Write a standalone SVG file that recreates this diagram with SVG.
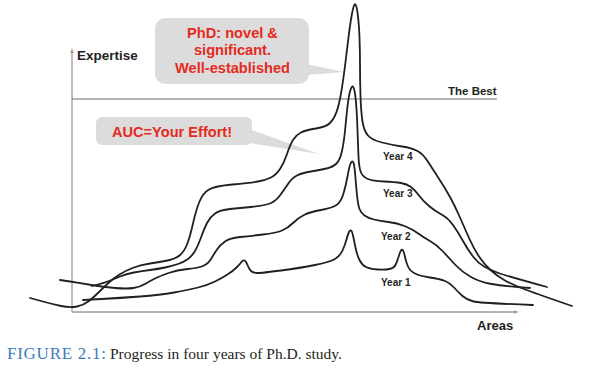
<svg xmlns="http://www.w3.org/2000/svg" width="600" height="370" viewBox="0 0 600 370">
<style>
.curve{fill:none;stroke:#231f20;stroke-width:1.8;stroke-linecap:round;stroke-linejoin:round}
.axis{fill:none;stroke:#a09a98;stroke-width:1.3}
.lbl{font-family:"Liberation Sans",Arial,sans-serif;font-weight:bold;fill:#231f20}
.red{font-family:"Liberation Sans",Arial,sans-serif;font-weight:bold;fill:#e62a1e;font-size:14.6px;text-anchor:middle}
.bubble{fill:#dcdcdc}
.cap{font-family:"Liberation Serif","Times New Roman",serif}
</style>
<rect width="600" height="370" fill="#ffffff"/>
<g id="axes">
<line class="axis" x1="72" y1="312" x2="72" y2="52"/>
<polygon points="72,48 70.3,53 73.7,53" fill="#a09a98"/>
<line class="axis" x1="72" y1="312" x2="515" y2="312"/>
<polygon points="519,312 514,310.3 514,313.7" fill="#a09a98"/>
<line x1="72" y1="99" x2="497" y2="99" stroke="#6d6d6d" stroke-width="1"/>
<text class="lbl" x="77" y="60" font-size="13.5">Expertise</text>
<text class="lbl" x="477" y="330" font-size="13">Areas</text>
<text class="lbl" x="448" y="95" font-size="11.5">The Best</text>
</g>
<g id="callout-phd">
<rect class="bubble" x="155" y="18" width="154" height="66" rx="10"/>
<polygon class="bubble" points="306,64 344,72 306,75"/>
<text class="red" x="232.5" y="37.5">PhD: novel &amp;</text>
<text class="red" x="232.5" y="55">significant.</text>
<text class="red" x="232.5" y="72.5">Well-established</text>
</g>
<g id="callout-auc">
<rect class="bubble" x="96" y="117" width="156" height="28" rx="6"/>
<polygon class="bubble" points="249,129 319,154 249,143"/>
<text class="red" x="172" y="137">AUC=Your Effort!</text>
</g>
<g id="connectors">
<path id="year4" class="curve" d="M30,298 L41,301 Q52,304 61,306 Q70,308 77,306.5 Q84,305 89,301 Q94,297 99,292 Q104,287 109,282.5 Q114,278 119.5,274.5 Q125,271 132.5,268 Q140,265 150,263.5 Q160,262 167.5,260.5 Q175,259 179.5,255.5 Q184,252 187,244.5 Q190,237 193,223.5 Q196,210 199.5,201.5 Q203,193 209,189.5 Q215,186 232.5,184.5 Q250,183 258,181.5 Q266,180 271,177.5 Q276,175 280,169 Q284,163 287,154 Q290,145 293,140 Q296,135 301,132.5 Q306,130 316,128.5 Q326,127 330,123 Q334,119 336.5,112 Q339,105 341,93.5 Q343,82 345,66 Q347,50 348.5,37.5 Q350,25 351.5,16.5 Q353,8 354,5.5 Q355,3 356,5.5 Q357,8 358,16.5 Q359,25 359.5,37.5 Q360,50 360,65 Q360,80 360.5,96 Q361,112 362.5,121.5 Q364,131 368,135.5 Q372,140 382,142.5 Q392,145 402,146.5 Q412,148 417.5,151 Q423,154 427.5,161 Q432,168 438.5,178 Q445,188 450,197 Q455,206 460,217.5 Q465,229 469.5,239 Q474,249 479,256.5 Q484,264 490.5,270 Q497,276 505,280.5 Q513,285 526.5,290 Q540,295 572,306"/>
<path id="year3" class="curve" d="M92,286 L98,284.5 Q104,283 109,281 Q114,279 120,276.5 Q126,274 134,272.5 Q142,271 150,270 Q158,269 165,267.5 Q172,266 178,264 Q184,262 188,259 Q192,256 195,251 Q198,246 201,237.5 Q204,229 207,223 Q210,217 215,213.5 Q220,210 230,209 Q240,208 251,207 Q262,206 268.5,204 Q275,202 279.5,196 Q284,190 288,184 Q292,178 297,175.5 Q302,173 311,171.5 Q320,170 326.5,168.5 Q333,167 336.5,163.5 Q340,160 342,151 Q344,142 345.5,126 Q347,110 348,102.5 Q349,95 350,91.5 Q351,88 351.75,87 Q352.5,86 353.25,87 Q354,88 354.75,92 Q355.5,96 356.25,105.5 Q357,115 357.5,130 Q358,145 358.5,156.5 Q359,168 361,172.5 Q363,177 368,179 Q373,181 384,181.5 Q395,182 401,183 Q407,184 411,187 Q415,190 419,195.5 Q423,201 429,206 Q435,211 441.5,214.5 Q448,218 453,225 Q458,232 463,241 Q468,250 473,256.5 Q478,263 484,266.5 Q490,270 498.5,273 Q507,276 547,287"/>
<path id="year2" class="curve" d="M60,280 L70,281.5 Q80,283 91.5,285 Q103,287 115,288 Q127,289 133.5,288 Q140,287 145,284 Q150,281 155,278.5 Q160,276 168.5,273 Q177,270 187.5,269 Q198,268 203,266 Q208,264 211,259 Q214,254 217,249.5 Q220,245 225,241.5 Q230,238 240,237 Q250,236 263,234.5 Q276,233 282,230.5 Q288,228 293,223 Q298,218 304,215 Q310,212 321,210 Q332,208 336.5,205 Q341,202 343.5,193.5 Q346,185 347.5,176.5 Q349,168 350,165 Q351,162 352,161.5 Q353,161 353.75,163.5 Q354.5,166 355.25,175.5 Q356,185 357,195 Q358,205 359.5,209 Q361,213 364.5,215.5 Q368,218 374,219.5 Q380,221 388.5,222 Q397,223 404.5,226 Q412,229 417.5,233 Q423,237 430,241 Q437,245 443,251.5 Q449,258 455.5,265 Q462,272 471,277 Q480,282 491.5,284 Q503,286 530,288"/>
<path id="year1" class="curve" d="M83,300 L101.5,299 Q120,298 140,296.5 Q160,295 174,292.5 Q188,290 198,287.5 Q208,285 215,281.5 Q222,278 227.5,274.5 Q233,271 236.5,267.5 Q240,264 241.5,262 Q243,260 244.5,260.5 Q246,261 247.5,265 Q249,269 251,271 Q253,273 257.5,273 Q262,273 281,270.5 Q300,268 315,265 Q330,262 335,259 Q340,256 342.5,250.5 Q345,245 346.5,239.5 Q348,234 349,232 Q350,230 351,230.5 Q352,231 353,235.5 Q354,240 355.5,247.5 Q357,255 359.5,260 Q362,265 366,267 Q370,269 377.5,269.5 Q385,270 389.5,269 Q394,268 395.5,265 Q397,262 398.5,257 Q400,252 401,250.5 Q402,249 403,250.5 Q404,252 405,257 Q406,262 408,266.5 Q410,271 415,273.5 Q420,276 430,277.5 Q440,279 445,281 Q450,283 454,287.5 Q458,292 462.5,296 Q467,300 473.5,301.5 Q480,303 533,305"/>
</g>
<g id="year-labels">
<text class="lbl" x="383" y="159.5" font-size="10">Year 4</text>
<text class="lbl" x="383" y="196.5" font-size="10">Year 3</text>
<text class="lbl" x="381" y="239.5" font-size="10">Year 2</text>
<text class="lbl" x="381" y="285.5" font-size="10">Year 1</text>
</g>
<g id="caption">
<text class="cap" x="7" y="359" fill="#3b7cc0" font-size="17" textLength="99" lengthAdjust="spacing">FIGURE 2.1:</text>
<text class="cap" x="110" y="359" fill="#231f20" font-size="15.5">Progress in four years of Ph.D. study.</text>
</g>
</svg>
